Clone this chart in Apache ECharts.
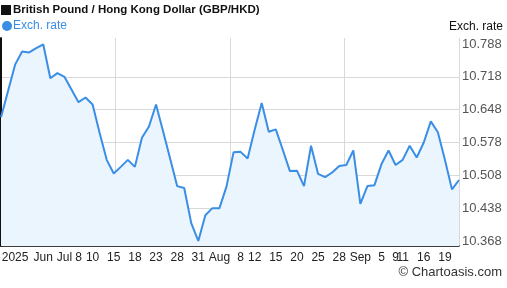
<!DOCTYPE html>
<html lang="en">
  <head>
    <meta charset="UTF-8" />
    <script src="https://cdn.jsdelivr.net/npm/echarts@6/dist/echarts.min.js"></script>
    <title>GBP/HKD</title>
    <style>
      html, body { margin: 0; padding: 0; background: #fff; }
      #app { width: 507px; height: 288px; }
    </style>
  </head>
  <body>
    <div id="app"></div>

    <script>
      // daily GBP/HKD closes
      const rates = [
        10.632, 10.688, 10.744, 10.772, 10.770, 10.779, 10.787, 10.715, 10.726, 10.718,
        10.691, 10.664, 10.674, 10.659, 10.598, 10.541, 10.512, 10.526, 10.541, 10.526,
        10.588, 10.612, 10.659, 10.602, 10.544, 10.485, 10.481, 10.406, 10.368, 10.423,
        10.438, 10.438, 10.484, 10.557, 10.558, 10.544, 10.605, 10.662, 10.601, 10.606,
        10.562, 10.517, 10.518, 10.485, 10.571, 10.511, 10.504, 10.514, 10.528, 10.530,
        10.561, 10.447, 10.485, 10.487, 10.532, 10.561, 10.530, 10.541, 10.571, 10.546,
        10.578, 10.623, 10.600, 10.541, 10.478, 10.498
      ];

      // where the date labels sit (point index) and what they say
      const labelIndex = [2, 6, 9, 11, 13, 16, 19, 22, 25, 28, 31, 34, 36, 39, 42, 45, 48, 51, 54, 56, 57, 60, 63];
      const labelText = ['2025', 'Jun', 'Jul', '8', '10', '15', '18', '23', '28', '31', 'Aug', '8', '12', '15', '20', '25', '28', 'Sep', '5', '9', '11', '16', '19'];

      const yTickLabels = [10.368, 10.438, 10.508, 10.578, 10.648, 10.718, 10.788];
      const yGridValues = [10.438, 10.508, 10.578, 10.648, 10.718];

      const categories = rates.map(() => '');
      labelIndex.forEach((idx, k) => { categories[idx] = labelText[k]; });

      const chart = echarts.init(document.getElementById('app'));
      const font = 'Liberation Sans, Arial, sans-serif';

      chart.setOption({
        animation: false,
        textStyle: { fontFamily: font },
        title: {
          text: 'British Pound / Hong Kong Dollar (GBP/HKD)',
          left: 13,
          top: 4,
          padding: 0,
          textStyle: { fontSize: 11.5, fontWeight: 'bold', color: '#111', fontFamily: font }
        },
        graphic: [
          { type: 'rect', left: 1, top: 5, shape: { width: 10, height: 10 }, style: { fill: '#111' } },
          {
            type: 'text', right: 4, top: 21,
            style: { text: 'Exch. rate', fontSize: 12, fill: '#111', fontFamily: font }
          },
          {
            type: 'text', right: 5, top: 266,
            style: { text: '© Chartoasis.com', fontSize: 13, fill: '#333', fontFamily: font }
          }
        ],
        legend: {
          left: -3,
          top: 15,
          icon: 'circle',
          itemWidth: 10,
          itemHeight: 10,
          itemGap: 2,
          textStyle: { color: '#3a8ee6', fontSize: 12, fontFamily: font, padding: [0, 0, 0, -4] },
          data: ['Exch. rate']
        },
        grid: { left: 1, right: 48, top: 38, bottom: 42, outerBoundsMode: 'none', containLabel: false },
        xAxis: [
          {
            type: 'category',
            data: categories,
            boundaryGap: false,
            axisLine: { lineStyle: { color: '#000', width: 1.5 } },
            axisTick: { show: false },
            axisLabel: { interval: 0, color: '#222', fontSize: 12, margin: 6, fontFamily: font },
            splitLine: { show: false }
          },
          {
            type: 'value',
            min: 0,
            max: 4,
            interval: 1,
            position: 'bottom',
            show: true,
            axisLine: { show: false },
            axisTick: { show: false },
            axisLabel: { show: false },
            splitLine: { show: true, lineStyle: { color: '#d9d9d9', width: 1 } }
          }
        ],
        yAxis: [
          {
            type: 'value',
            position: 'right',
            min: 10.3573,
            max: 10.8008,
            axisLine: { show: true, lineStyle: { color: '#000', width: 1.5 } },
            axisTick: { show: false, customValues: yGridValues },
            axisLabel: {
              customValues: yTickLabels,
              color: '#555',
              fontSize: 13,
              margin: 3,
              fontFamily: font,
              formatter: (v) => v.toFixed(3)
            },
            splitLine: { show: true, lineStyle: { color: '#d9d9d9', width: 1 } }
          },
          {
            type: 'value',
            position: 'left',
            min: 10.3573,
            max: 10.8008,
            axisLine: { show: true, lineStyle: { color: '#000', width: 1.5 } },
            axisTick: { show: false },
            axisLabel: { show: false },
            splitLine: { show: false }
          }
        ],
        series: [
          {
            name: 'Exch. rate',
            type: 'line',
            data: rates,
            xAxisIndex: 0,
            yAxisIndex: 0,
            symbol: 'none',
            color: '#3a8ee6',
            lineStyle: { width: 2, color: '#3a8ee6' },
            areaStyle: { color: '#ebf5fe', opacity: 1 },
            z: 3
          }
        ]
      });
    </script>
  </body>
</html>
